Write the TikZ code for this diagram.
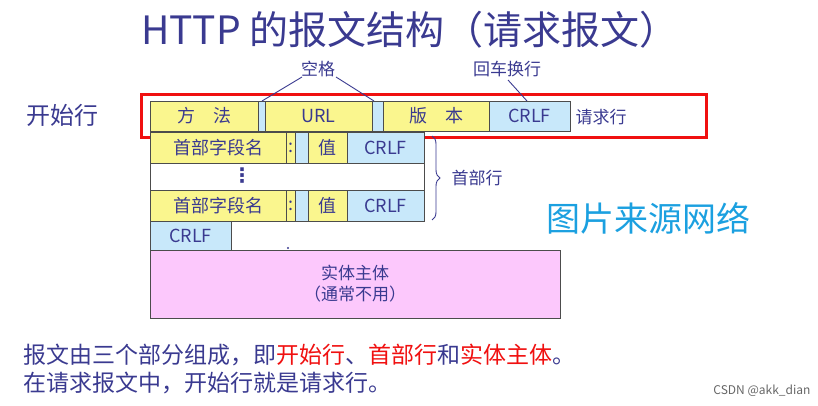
\documentclass[tikz,border=0pt]{standalone}
\usepackage{fontspec}
\setmainfont{Noto Sans CJK SC}
\newfontfamily\djv{DejaVu Sans}
\usetikzlibrary{decorations.pathreplacing}
\definecolor{tb}{HTML}{3A3A90}
\definecolor{yel}{HTML}{FAF68E}
\definecolor{blu}{HTML}{C8E8FA}
\definecolor{pnk}{HTML}{FCC8FC}
\definecolor{rd}{HTML}{F01010}
\definecolor{cy}{HTML}{1BA0E0}
\begin{document}
\begin{tikzpicture}[x=1pt,y=-1pt,
  cell/.style={draw=black!70,line width=0.7pt,text=tb,font=\fontsize{18}{18}\selectfont},
  lbl/.style={text=tb,font=\fontsize{17}{17}\selectfont},
  ptr/.style={draw=tb,line width=0.9pt}]
\useasboundingbox (0,0) rectangle (818,406);
\node[text=tb,font=\fontsize{39}{39}\selectfont] (title) at (410,30) {HTTP 的报文结构（请求报文）};
\node[text=tb,font=\fontsize{24}{24}\selectfont] (start) at (62,115) {开始行};
% row 1
\path[cell,fill=yel] (150,101) rectangle node (m) {方\quad 法} (258,131);
\path[cell,fill=blu] (258,101) rectangle (265,131);
\path[cell,fill=yel] (265,101) rectangle node (u) {URL} (372,131);
\path[cell,fill=blu] (372,101) rectangle (383,131);
\path[cell,fill=yel] (383,101) rectangle node (v) {版\quad 本} (489,131);
\path[cell,fill=blu] (489,101) rectangle node (c1) {CRLF} (570,131);
\node[lbl,anchor=west] (req) at (572,117) {请求行};
\draw[rd,line width=3pt] (141,95) rectangle (706,138);
% header rows
\foreach \y/\n in {132/a,190/b}{
  \path[cell,fill=yel] (150,\y) rectangle node {首部字段名} (286,\y+31);
  \path[cell,fill=yel] (286,\y) rectangle node {:} (295,\y+31);
  \path[cell,fill=blu] (295,\y) rectangle (308,\y+31);
  \path[cell,fill=yel] (308,\y) rectangle node {值} (347,\y+31);
  \path[cell,fill=blu] (347,\y) rectangle node {CRLF} (424,\y+31);
}
\path[cell,fill=white] (150,163) rectangle (424,190);
\node[text=tb,font=\djv\fontsize{20}{20}\bfseries\selectfont] (dots) at (242,176) {⋮};
\path[cell,fill=blu] (150,221) rectangle node (c5) {CRLF} (231,250);
\path[cell,fill=pnk] (150,250) rectangle node[align=center,font=\fontsize{17}{21}\selectfont] (body) {实体主体\\（通常不用）} (560,318);
\fill[tb] (288,248) circle (1.2);
% brace
\draw[ptr,decorate,decoration={brace,amplitude=8pt}] (432,136) -- (432,220);
\node[lbl,anchor=west] (hl) at (448,178) {首部行};
% pointers
\node[lbl] (sp) at (318,69) {空格};
\node[lbl] (cr) at (507,69) {回车换行};
\coordinate (s1) at (262,101);
\coordinate (s2) at (374,101);
\coordinate (s3) at (527,101);
\draw[ptr] (302,77) -- (s1);
\draw[ptr] (336,77) -- (s2);
\draw[ptr] (508,80) -- (s3);
\node[text=cy,font=\fontsize{34}{34}\selectfont] (src) at (648,218) {图片来源网络};
\node[text=tb,anchor=west,font=\fontsize{23}{23}\selectfont] (l1) at (20,355) {报文由三个部分组成，即\textcolor{rd}{开始行}、\textcolor{rd}{首部行}和\textcolor{rd}{实体主体}。};
\node[text=tb,anchor=west,font=\fontsize{23}{23}\selectfont] (l2) at (20,383) {在请求报文中，开始行就是请求行。};
\node[text=black!60,anchor=east,font=\fontsize{12}{12}\selectfont] (wm) at (814,391) {CSDN @akk\_dian};
\end{tikzpicture}
\end{document}
